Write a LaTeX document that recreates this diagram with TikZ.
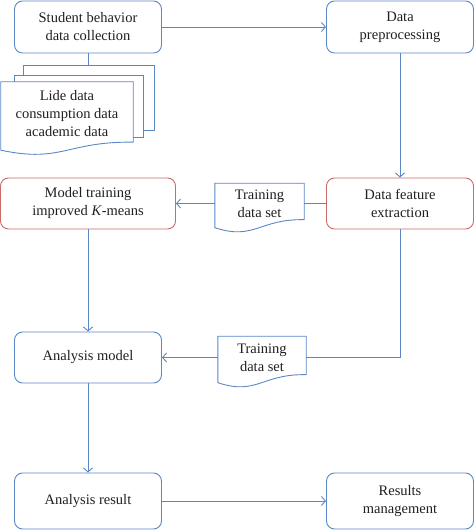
\documentclass[tikz,border=0pt]{standalone}
\usepackage{fontspec}
\setmainfont{Liberation Serif}
\usetikzlibrary{positioning,arrows.meta,calc}
\definecolor{flowBlue}{HTML}{5B87C5}
\definecolor{flowRed}{HTML}{CD6B6B}
\definecolor{inkGray}{HTML}{231F20}
\tikzset{
    stepbox/.style={draw=flowBlue,fill=white,rounded corners=8pt,line width=0.9pt,
        minimum width=147pt,minimum height=52pt,align=center,text=inkGray,
        font=\fontsize{14.5}{18}\selectfont},
    redbox/.style={stepbox,draw=flowRed},
    docnode/.style={fill=white,inner sep=0pt,align=center,text=inkGray,
        font=\fontsize{14.5}{18}\selectfont},
    sheet/.style={draw=flowBlue,fill=white,line width=0.9pt,inner sep=0pt},
    docline/.style={draw=flowBlue,line width=0.9pt},
    link/.style={draw=flowBlue,line width=0.9pt},
    arrow/.style={link,-{Straight Barb[length=4pt,width=9pt]}}
}
% document outline with wavy bottom, drawn over a named node
\newcommand{\docpath}[1]{%
    \draw[docline] (#1.north west) -- (#1.north east) -- ($(#1.south east)+(0,4)$)
        .. controls ($(#1.south)+(0,5)$) and ($(#1.south)+(-5,-17)$) .. ($(#1.south west)+(0,-4)$)
        -- cycle;}
\begin{document}
\begin{tikzpicture}[x=1pt,y=1pt]
    \useasboundingbox (0,0) rectangle (474,530);
    % top row
    \node[stepbox] (collect) at (88,503) {Student behavior\\data collection};
    \node[stepbox] (prep) at (400,503) {Data\\preprocessing};
    % stacked data sheets
    \node[sheet,minimum width=131pt,minimum height=65pt] (sheetback) at (88.5,432.5) {};
    \node[sheet,minimum width=129pt,minimum height=62pt] (sheetmid) at (78.5,424) {};
    \node[docnode,minimum width=132pt,minimum height=64pt] (sources) at (67,416) {Lide data\\consumption data\\academic data};
    \docpath{sources}
    % middle rows
    \node[redbox,minimum width=175pt,minimum height=51pt] (train) at (88,326.5) {Model training\\improved \textit{K}-means};
    \node[redbox,minimum height=51pt] (feat) at (400,326.5) {Data feature\\extraction};
    \node[docnode,minimum width=89pt,minimum height=40pt] (tdsA) at (259.5,326.5) {Training\\data set};
    \docpath{tdsA}
    \node[stepbox,minimum height=51pt] (amodel) at (88,172.5) {Analysis model};
    \node[docnode,minimum width=88pt,minimum height=42pt] (tdsB) at (262,172.5) {Training\\data set};
    \docpath{tdsB}
    % bottom row
    \node[stepbox,minimum height=56pt] (aresult) at (88,29) {Analysis result};
    \node[stepbox,minimum height=56pt] (rmgmt) at (400,29) {Results\\management};
    % connectors
    \draw[arrow] (collect) -- (prep);
    \draw[link] (collect.south) -- (collect.south |- sheetback.north);
    \draw[arrow] (prep) -- (feat);
    \draw[link] (feat) -- (tdsA);
    \draw[arrow] (tdsA) -- (train);
    \draw[arrow] (train) -- (amodel);
    \draw[link] (feat.south) |- (tdsB.east);
    \draw[arrow] (tdsB) -- (amodel);
    \draw[arrow] (amodel) -- (aresult);
    \draw[arrow] (aresult) -- (rmgmt);
\end{tikzpicture}
\end{document}
